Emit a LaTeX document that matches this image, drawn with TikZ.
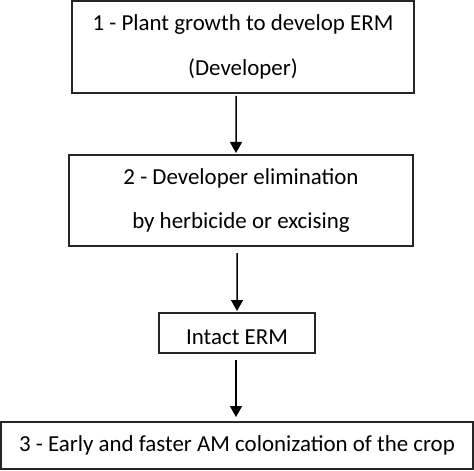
\documentclass[tikz,border=0pt]{standalone}
\usepackage{fontspec}
\setmainfont{Carlito}
\usetikzlibrary{arrows.meta}
\begin{document}
\begin{tikzpicture}[x=1bp,y=-1bp,
  box/.style={draw=black!85,line width=1.4bp,inner sep=0pt,outer sep=0pt,align=center,
    font=\fontsize{23}{45}\selectfont},
  arr/.style={line width=1.5bp,-{Triangle[width=12bp,length=11bp]}}]
\useasboundingbox (0,0) rectangle (474,471);
\node[box,minimum width=342bp,minimum height=92bp] (b1) at (243,47) {1 - Plant growth to develop ERM\\(Developer)};
\node[box,minimum width=344bp,minimum height=91bp] (b2) at (241,200.5) {2 - Developer elimination\\by herbicide or excising};
\node[box,minimum width=156bp,minimum height=40bp,text height=22bp,text depth=0pt] (b3) at (237,333) {Intact ERM};
\node[box,minimum width=472bp,minimum height=47bp] (b4) at (237,445.5) {3 - Early and faster AM colonization of the crop};
\draw[arr] ([xshift=-7bp,yshift=-3bp]b1.south) -- ([xshift=-5bp,yshift=2bp]b2.north);
\draw[arr] ([xshift=-4bp,yshift=-7bp]b2.south) -- ([xshift=0bp,yshift=2bp]b3.north);
\draw[arr] ([xshift=-1bp,yshift=-7bp]b3.south) -- ([xshift=-1bp,yshift=5bp]b4.north);
\end{tikzpicture}
\end{document}
